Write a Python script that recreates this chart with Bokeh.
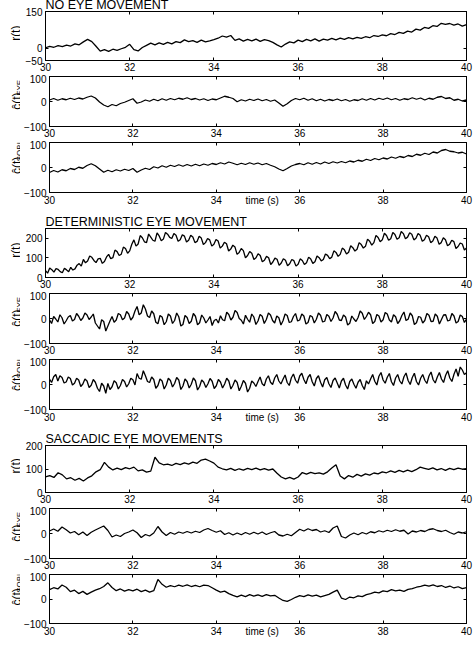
import numpy as np
from bokeh.plotting import figure
from bokeh.layouts import column, row
from bokeh.models import FixedTicker, Range1d, LinearAxis
from bokeh.core.properties import value
from bokeh.embed import file_html
from bokeh.resources import INLINE

FONT = "Liberation Sans"

# ---------------- data (30 s to 40 s) -------------
x_ticks = [30, 32, 34, 36, 38, 40]
x_tick_labels = ["30", "32", "34", "36", "38", "40"]
x_title = "time (s)"
x_title_pos = 35.1

titles = ["NO EYE MOVEMENT", "DETERMINISTIC EYE MOVEMENT", "SACCADIC EYE MOVEMENTS"]

r_none = [2, 8, 4, 11, 7, 13, 9, 18, 14, 26, 36, 27, 8, -12, -6, -13, -4, -9, -2, 4,
          16, -6, -11, 3, 12, 21, 14, 22, 16, 24, 18, 27, 23, 34, 27, 31, 24, 33, 26, 30,
          35, 41, 50, 45, 52, 32, 38, 29, 36, 30, 37, 28, 35, 31, 24, 14, 5, 17, 26, 22,
          33, 27, 36, 30, 38, 29, 37, 33, 40, 34, 41, 36, 43, 38, 44, 40, 47, 43, 52, 48,
          55, 51, 60, 56, 65, 61, 70, 66, 78, 74, 85, 81, 92, 89, 102, 97, 101, 94, 99, 90, 96]
eye_none = [6, 12, 5, 11, 7, 13, 8, 14, 10, 17, 22, 14, -2, -14, -21, -12, -17, -8, -3, 4,
            11, -7, -2, 6, 1, 9, 3, 11, 5, 12, 7, 13, 9, 15, 8, 12, 6, 11, 4, 10,
            7, 14, 21, 17, 12, -1, 7, 2, 9, 4, 10, 3, 8, 1, 6, -6, -19, -9, 4, 12,
            7, 13, 5, 11, 3, 9, 2, 8, 4, 10, 3, 8, 1, 7, 4, 11, 5, 12, 6, 13,
            8, 14, 7, 12, 5, 11, 8, 15, 9, 14, 6, 13, 9, 17, 20, 12, 15, 5, 9, 2, 6]
sobi_none = [-20, -12, -18, -9, -13, -4, -8, 1, -3, 8, 15, 7, -6, -19, -11, -17, -9, -14, -7, -12,
             -4, -19, -10, -3, -8, 3, -2, 7, 1, 9, 4, 11, 5, 12, 6, 13, 7, 14, 9, 16,
             12, 19, 14, 22, 17, 11, 17, 12, 19, 13, 18, 11, 16, 9, 3, -6, -13, -4, 6, 12,
             16, 11, 19, 13, 20, 14, 22, 16, 23, 18, 24, 19, 26, 22, 29, 25, 33, 28, 36, 31,
             38, 34, 42, 37, 44, 40, 48, 44, 53, 49, 57, 52, 62, 58, 68, 72, 65, 63, 58, 61, 54]

r_det = [35, 22, 48, 40, 27, 45, 41, 30, 24, 47, 39, 29, 52, 38, 44, 63, 71, 58, 92, 75,
         84, 110, 103, 87, 76, 95, 98, 72, 82, 105, 118, 96, 101, 140, 132, 112, 119, 155, 148, 124,
         136, 170, 192, 160, 171, 214, 203, 182, 178, 222, 206, 190, 185, 228, 212, 188, 196, 230, 221, 205,
         199, 224, 216, 185, 193, 218, 211, 181, 190, 215, 207, 178, 184, 210, 201, 168, 178, 199, 192, 160,
         170, 194, 186, 150, 160, 180, 172, 135, 145, 165, 156, 118, 128, 148, 137, 100, 112, 133, 124, 92,
         101, 121, 112, 80, 88, 108, 101, 66, 79, 99, 93, 62, 74, 96, 88, 60, 70, 92, 86, 58,
         68, 95, 87, 66, 75, 104, 94, 72, 80, 110, 101, 85, 92, 120, 113, 96, 104, 136, 128, 108,
         118, 150, 141, 120, 129, 162, 152, 135, 144, 178, 168, 150, 159, 196, 185, 165, 178, 215, 204, 183,
         192, 226, 214, 190, 198, 230, 219, 195, 203, 235, 224, 198, 206, 228, 221, 192, 200, 224, 215, 185,
         193, 216, 208, 178, 186, 210, 201, 170, 178, 203, 193, 162, 170, 190, 183, 148, 158, 176, 171, 140, 150]
eye_det = [-5, -20, 8, -2, -14, 15, 3, -22, -9, 6, 12, -10, -4, 20, 9, -8, 2, 22, 14, -4,
           6, 18, -18, -30, -42, -5, -12, -50, -30, -10, 8, -15, -6, 20, 15, -5, 2, 28, 18, -6,
           5, 30, 48, 15, 22, 55, 38, 10, 4, 30, 19, -15, -21, 12, 6, -25, -13, 18, 10, -20,
           -8, 22, 7, -30, -24, 12, 4, -20, -11, 20, 9, -25, -17, 14, 2, -18, -6, 8, -28, -8,
           -3, -18, 11, -5, -9, 25, 16, -6, 5, 32, 24, 0, -7, -22, 13, -3, -15, 18, 6, -24,
           -10, 16, 9, -20, -4, 22, 14, -8, -18, 10, 3, -26, -9, 18, 12, -16, -13, 8, 20, -10,
           -6, 18, 10, -22, -16, 12, 7, -18, -3, 22, 13, -14, -11, 16, 9, -12, 2, 28, 17, -6,
           -8, 14, 6, -26, -19, 10, -2, -12, 4, 30, 21, -4, 8, 25, 15, -20, -12, 16, 10, -14,
           -5, 24, 18, -6, -14, 15, 7, -20, -9, 12, 26, -8, -3, 22, 11, -24, -17, 8, 5, -18,
           -8, 20, 13, -12, -11, 18, 9, -22, -4, 14, 15, -10, -7, 20, 10, -18, -12, 14, 8, -16, -2]
sobi_det = [22, 8, 31, 40, 14, 35, 28, 6, 10, 30, 24, -2, 5, 25, 18, -8, 2, 22, 14, -12,
            -3, 20, 9, -15, -28, 5, -6, -35, 4, -20, -9, 15, 7, -18, -4, 20, 12, -10, 3, 25,
            19, -2, 44, 25, 21, 55, 35, 12, 8, 30, 20, -15, -4, 22, 14, -18, -2, 25, 16, -10,
            4, 28, 18, -20, -6, 22, 12, -14, 1, 26, 15, -22, -8, 18, 9, -12, 3, 24, 13, -16,
            -5, 20, 10, -14, 2, 25, 14, -18, -3, 18, 8, -25, -7, 16, 5, -30, -15, 14, 6, -8,
            12, 30, 3, -5, 22, 35, 9, 0, 26, 40, 14, 2, 21, 38, 8, -4, 27, 42, 17, 5,
            34, 45, 20, 3, 29, 40, 11, -6, 24, 35, 9, -10, 19, 28, 3, -12, 16, 26, 6, -14,
            14, 25, -2, -18, 12, 22, 1, -15, 9, 20, -4, -20, 15, 2, 22, 40, 13, -2, 33, 48,
            18, 5, 29, 44, 11, -4, 26, 40, 14, 2, 31, 46, 16, 0, 28, 45, 12, -2, 25, 40,
            17, 4, 34, 50, 19, 6, 30, 48, 22, 8, 37, 55, 26, 12, 41, 62, 33, 70, 58, 40, 47]

r_sac = [66, 72, 64, 84, 75, 58, 63, 52, 60, 49, 62, 71, 88, 97, 128, 108, 96, 104, 97, 106,
         101, 108, 92, 96, 87, 91, 150, 126, 118, 121, 115, 124, 119, 126, 121, 129, 124, 138, 142, 134,
         125, 108, 101, 96, 103, 94, 101, 95, 103, 97, 104, 96, 102, 95, 100, 82, 66, 58, 64, 57,
         66, 85, 78, 86, 80, 84, 78, 88, 104, 118, 70, 58, 72, 65, 77, 70, 79, 74, 83, 79,
         88, 84, 92, 86, 94, 88, 95, 89, 97, 108, 103, 98, 105, 96, 102, 94, 103, 97, 104, 99, 102]
eye_sac = [10, 18, 9, 26, 15, 2, 8, -5, 6, -8, 5, 14, 22, 30, 12, -14, -6, -12, 0, 6,
           14, 3, -16, -4, -10, 2, 28, 6, -8, 4, -3, 6, 1, 8, 2, 9, 4, 14, 20, 12,
           5, 11, -4, 3, -6, 2, -5, 4, -3, 5, -2, 6, -4, 3, 8, -6, -10, -3, -9, 4,
           17, 10, 19, 12, 16, 6, 11, 4, 22, 30, -12, -18, -6, 2, -5, 4, -2, 7, 3, 11,
           6, 13, 8, 15, 9, 13, -2, 10, 6, 12, 8, 16, 19, 12, 8, 13, 4, -3, 6, 2, 7]
sobi_sac = [38, 46, 41, 57, 48, 30, 36, 22, 31, 19, 28, 36, 42, 51, 66, 47, 34, 41, 32, 38,
            33, 40, 30, 36, 28, 34, 80, 60, 48, 55, 50, 57, 52, 58, 51, 56, 50, 57, 55, 46,
            36, 28, 32, 22, 15, 9, 16, 10, 18, 12, 17, 11, 18, 13, 15, 4, -6, -10, -2, 7,
            14, 10, 17, 12, 16, 9, 14, 19, 28, 36, 4, -2, 8, 5, 13, 10, 18, 22, 28, 25,
            33, 30, 38, 33, 36, 31, 39, 42, 48, 52, 57, 53, 58, 51, 55, 47, 53, 45, 50, 42, 46]

# ---------------- panel definitions ----------------
panels = [
    dict(vals=r_none, yr=(-50, 150), yt=[-50, 0, 150], lab="r", title=titles[0], mbt=15, fh=50, mbb=14, time=False),
    dict(vals=eye_none, yr=(-100, 100), yt=[-100, 0, 100], lab="EYE", title=None, mbt=2, fh=50, mbb=14, time=False),
    dict(vals=sobi_none, yr=(-100, 100), yt=[-100, 0, 100], lab="SOBI", title=None, mbt=2, fh=50, mbb=20, time=True),
    dict(vals=r_det, yr=(0, 250), yt=[0, 100, 200], lab="r", title=titles[1], mbt=15, fh=50, mbb=14, time=False),
    dict(vals=eye_det, yr=(-100, 100), yt=[-100, 0, 100], lab="EYE", title=None, mbt=2, fh=50, mbb=14, time=False),
    dict(vals=sobi_det, yr=(-100, 100), yt=[-100, 0, 100], lab="SOBI", title=None, mbt=2, fh=50, mbb=20, time=True),
    dict(vals=r_sac, yr=(0, 200), yt=[0, 100, 200], lab="r", title=titles[2], mbt=14, fh=49, mbb=14, time=False),
    dict(vals=eye_sac, yr=(-100, 100), yt=[-100, 0, 100], lab="EYE", title=None, mbt=2, fh=50, mbb=14, time=False),
    dict(vals=sobi_sac, yr=(-100, 100), yt=[-100, 0, 100], lab="SOBI", title=None, mbt=2, fh=49, mbb=20, time=True),
]

LW = 20          # width of the strip holding the rotated y labels
W = 474 - LW
ML, MR = 25, 8


def style_axis(ax, ticks, show, standoff, tick_in=3):
    ax.ticker = FixedTicker(ticks=ticks)
    ax.major_tick_in = tick_in
    ax.major_tick_out = 0
    ax.minor_tick_in = 0
    ax.minor_tick_out = 0
    ax.axis_line_color = "black"
    ax.major_tick_line_color = "black"
    ax.major_label_text_font = FONT
    if show:
        ax.major_label_text_color = "black"
        ax.major_label_text_font_size = "10px"
        ax.major_label_standoff = standoff
    else:
        ax.major_label_text_color = None
        ax.major_label_text_font_size = "0px"
        ax.major_label_standoff = 0


rows = []
for pn in panels:
    H = pn["mbt"] + pn["fh"] + pn["mbb"]
    p = figure(width=W, height=H, x_range=Range1d(30, 40), y_range=Range1d(*pn["yr"]),
               output_backend="svg", toolbar_location=None, x_axis_location=None,
               min_border_left=ML, min_border_right=MR,
               min_border_top=pn["mbt"], min_border_bottom=pn["mbb"])
    p.xgrid.visible = False
    p.ygrid.visible = False
    p.outline_line_color = "black"
    p.outline_line_width = 1
    p.background_fill_color = "white"
    p.border_fill_color = "white"

    # bottom: tick marks only (closest to the frame), then the labels
    xt = LinearAxis()
    style_axis(xt, x_ticks, False, 0)
    p.add_layout(xt, "below")
    xl = LinearAxis()
    lab_ticks = list(x_ticks)
    overrides = {t: s for t, s in zip(x_ticks, x_tick_labels)}
    if pn["time"]:
        lab_ticks.append(x_title_pos)
        overrides[x_title_pos] = x_title
    style_axis(xl, lab_ticks, True, 2)
    xl.major_label_overrides = overrides
    xl.major_tick_line_color = None
    xl.axis_line_color = None
    xl.major_tick_in = 0
    p.add_layout(xl, "below")

    style_axis(p.yaxis[0], pn["yt"], True, 3)
    top = LinearAxis()
    style_axis(top, x_ticks, False, 0)
    p.add_layout(top, "above")
    right = LinearAxis()
    style_axis(right, pn["yt"], False, 0)
    p.add_layout(right, "right")

    if pn["title"]:
        p.title.text = pn["title"]
        p.title.align = "left"
        p.title.text_font = FONT
        p.title.text_font_size = "12.5px"
        p.title.text_font_style = "normal"
        p.title.text_color = "black"
        p.title.standoff = 0
        p.title.offset = 0

    t = np.linspace(30, 40, len(pn["vals"]))
    p.line(t, pn["vals"], line_color="black", line_width=1.3)

    # strip on the left with the rotated y label (coordinates: pixels above the frame bottom)
    lf = figure(width=LW, height=H, x_range=Range1d(0, LW), y_range=Range1d(-pn["mbb"], pn["fh"] + pn["mbt"]),
                output_backend="svg", toolbar_location=None,
                min_border_left=0, min_border_right=0, min_border_top=0, min_border_bottom=0,
                x_axis_location=None, y_axis_location=None)
    lf.xgrid.visible = False
    lf.ygrid.visible = False
    lf.outline_line_color = None
    lf.background_fill_color = "white"
    lf.border_fill_color = "white"
    mid = pn["fh"] / 2
    if pn["lab"] == "r":
        lf.text(x=[15], y=[mid + 5], text=["r(t)"], angle=np.pi / 2,
                text_font=value(FONT), text_font_size=value("12px"), text_color="black",
                text_align="center", text_baseline="alphabetic")
    else:
        sub_len = 16 if pn["lab"] == "EYE" else 19
        start = mid - (18 + sub_len) / 2
        lf.text(x=[16], y=[start], text=["\u0109(t)"], angle=np.pi / 2,
                text_font=value(FONT), text_font_size=value("12px"), text_color="black",
                text_align="left", text_baseline="alphabetic")
        lf.text(x=[18.5], y=[start + 18.5], text=[pn["lab"]], angle=np.pi / 2,
                text_font=value(FONT), text_font_size=value("8px"), text_color="black",
                text_align="left", text_baseline="alphabetic")
    rows.append(row(lf, p, spacing=0))

layout = column(*rows, spacing=0, styles={"margin-top": "-5px"})

open("out.html", "w").write(file_html(layout, INLINE))
